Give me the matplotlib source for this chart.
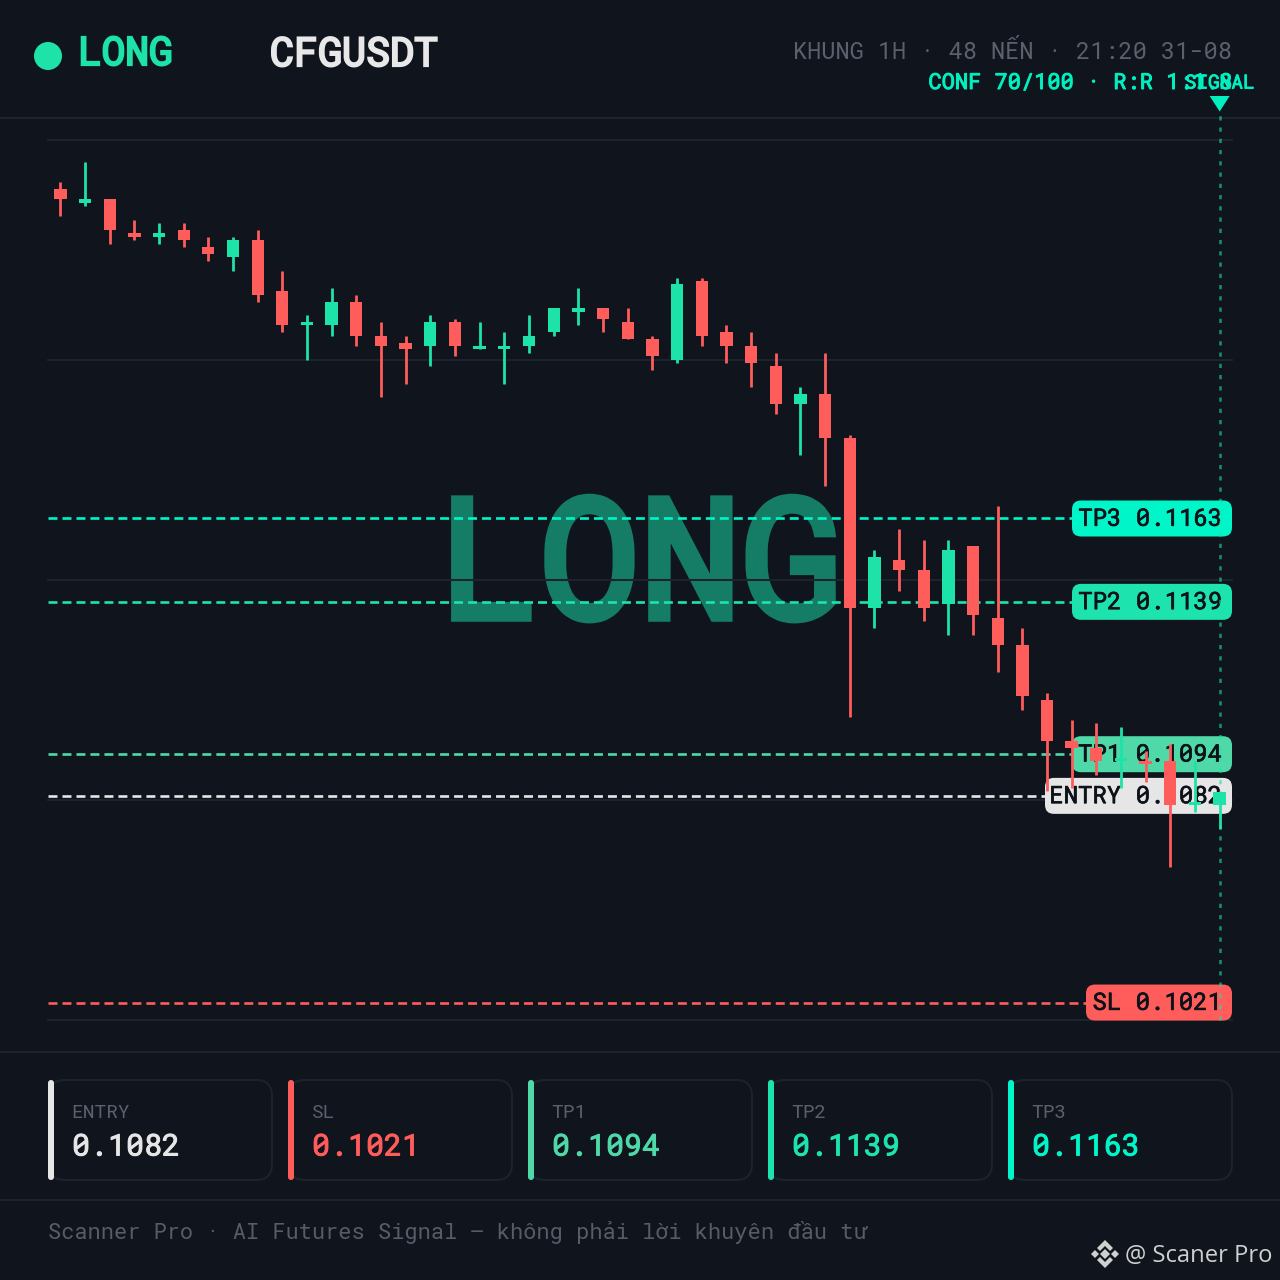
import matplotlib
matplotlib.use("Agg")
from matplotlib import pyplot as plt
from matplotlib import font_manager
from matplotlib import patheffects
from matplotlib.patches import Circle, FancyBboxPatch, Polygon
from matplotlib.transforms import Affine2D
import numpy as np

# candles, oldest first
opens = [0.12595, 0.12555, 0.12565, 0.12465, 0.12455, 0.12475, 0.12425, 0.12395,
         0.12445, 0.12295, 0.12195, 0.12195, 0.12265, 0.12165, 0.12145, 0.12135,
         0.12205, 0.12125, 0.12125, 0.12135, 0.12175, 0.12235, 0.12245, 0.12205,
         0.12155, 0.12095, 0.12325, 0.12175, 0.12135, 0.12075, 0.11965, 0.11995,
         0.11865, 0.11369, 0.11508, 0.11478, 0.11379, 0.11549, 0.11339, 0.1126,
         0.11099, 0.10979, 0.10959, 0.1092, 0.1092, 0.1092, 0.1079, 0.1079]
highs = [0.12615, 0.12675, 0.12565, 0.12505, 0.12495, 0.12495, 0.12455, 0.12455,
         0.12475, 0.12355, 0.12225, 0.12305, 0.12285, 0.12205, 0.12165, 0.12225,
         0.12215, 0.12205, 0.12175, 0.12225, 0.12245, 0.12305, 0.12245, 0.12245,
         0.12165, 0.12335, 0.12335, 0.12195, 0.12175, 0.12115, 0.12015, 0.12115,
         0.11875, 0.11538, 0.11598, 0.11568, 0.11568, 0.11549, 0.11668, 0.1131,
         0.11118, 0.11039, 0.1103, 0.1102, 0.1095, 0.10969, 0.1092, 0.1083]
lows = [0.12515, 0.12545, 0.12435, 0.12445, 0.12435, 0.12425, 0.12385, 0.12355,
        0.12265, 0.12175, 0.12095, 0.12165, 0.12135, 0.11985, 0.12025, 0.12075,
        0.12105, 0.12125, 0.12025, 0.12115, 0.12165, 0.12195, 0.12175, 0.12155,
        0.12065, 0.12085, 0.12135, 0.12085, 0.12015, 0.11935, 0.11815, 0.11725,
        0.1105, 0.1131, 0.11419, 0.11329, 0.11289, 0.11289, 0.1118, 0.1107,
        0.10832, 0.1084, 0.10879, 0.1084, 0.1086, 0.1061, 0.1077, 0.1072]
closes = [0.12565, 0.12565, 0.12475, 0.12455, 0.12465, 0.12445, 0.12405, 0.12445,
          0.12285, 0.12195, 0.12205, 0.12265, 0.12165, 0.12135, 0.12125, 0.12205,
          0.12135, 0.12135, 0.12135, 0.12165, 0.12245, 0.12245, 0.12215, 0.12155,
          0.12105, 0.12315, 0.12165, 0.12135, 0.12085, 0.11965, 0.11995, 0.11865,
          0.11369, 0.11518, 0.11478, 0.11369, 0.11538, 0.11348, 0.1126, 0.1111,
          0.1098, 0.10959, 0.1092, 0.10929, 0.1091, 0.1079, 0.108, 0.1083]

level_names = ["TP3", "TP2", "TP1", "ENTRY", "SL"]
level_prices = [0.1163, 0.11386, 0.1094, 0.10818, 0.10213]
level_labels = ["0.1163", "0.1139", "0.1094", "0.1082", "0.1021"]
level_colors = ["#00f5c8", "#1de3ae", "#4fd9a8", "#e6e6e6", "#ff5c5c"]
pill_lefts = [1072, 1072, 1072, 1045, 1086]

card_names = ["ENTRY", "SL", "TP1", "TP2", "TP3"]
card_values = ["0.1082", "0.1021", "0.1094", "0.1139", "0.1163"]
card_colors = ["#e6e6e6", "#ff5c5c", "#4fd9a8", "#1de3ae", "#00f5c8"]

BG = "#0f141d"
LINE = "#1d232d"
GREY = "#5a616d"
GREEN = "#1de3a8"
RED = "#ff5c5c"
TEAL = "#00f0c0"
INK = "#0d1218"

names = {f.name for f in font_manager.fontManager.ttflist}
MONO = "Roboto Mono" if "Roboto Mono" in names else "DejaVu Sans Mono"


def px(size):
    # font sizes below are given in pixels
    return size * 72 / 100


def heavy(width, color):
    # the mono font only comes in one weight, so thicken it with an outline
    return [patheffects.withStroke(linewidth=px(width), foreground=color, joinstyle="miter")]


fig = plt.figure(figsize=(12.8, 12.8), dpi=100, facecolor=BG)

# page axes, coordinates are image pixels
page = fig.add_axes([0, 0, 1, 1], zorder=1)
page.set_xlim(0, 1280)
page.set_ylim(1280, 0)
page.axis("off")

# header
page.add_patch(Circle((48, 56), 14, color=GREEN, lw=0))
page.text(78, 54.5, "LONG", color=GREEN, fontsize=px(39.4), family=MONO, va="center",
          path_effects=heavy(2.2, GREEN))
page.text(270, 54.5, "CFGUSDT", color="#e8e8e8", fontsize=px(40), family=MONO, va="center",
          path_effects=heavy(2.2, "#e8e8e8"))
page.text(1232, 52, "KHUNG 1H · 48 NẾN · 21:20 31-08", color=GREY, fontsize=px(23.65),
          family=MONO, ha="right", va="center")
page.text(1232, 83.5, "CONF 70/100 · R:R 1:1.8", color=TEAL, fontsize=px(22), family=MONO,
          ha="right", va="center", path_effects=heavy(1.0, TEAL))
page.plot([0, 1280], [118, 118], color=LINE, lw=1.5)
page.plot([0, 1280], [1052, 1052], color=LINE, lw=1.5)
page.plot([0, 1280], [1200, 1200], color=LINE, lw=1.5)

# cards under the chart
for i in range(5):
    left = 48 + i * 240
    page.add_patch(FancyBboxPatch((left + 1, 1080), 223, 100, boxstyle="round,pad=0,rounding_size=16",
                                  fc="none", ec=LINE, lw=1.5))
    page.add_patch(FancyBboxPatch((left, 1080), 6, 100, boxstyle="round,pad=0,rounding_size=3",
                                  fc=card_colors[i], ec="none"))
    page.text(left + 23.5, 1113, card_names[i], color=GREY, fontsize=px(19.5), family=MONO, va="center")
    page.text(left + 24, 1147.5, card_values[i], color=card_colors[i], fontsize=px(30), family=MONO,
              va="center", path_effects=heavy(1.0, card_colors[i]))

# footer
page.text(48, 1233, "Scanner Pro · AI Futures Signal — không phải lời khuyên đầu tư", color="#565c68",
          fontsize=px(22), family=MONO, va="center")
page.text(1125, 1255.5, "@ Scaner Pro", color="#cfd0d0", fontsize=px(23.7), family="Open Sans", va="center")
for pts in [[(1105, 1249), (1110, 1254), (1105, 1259), (1100, 1254)],
            [(1091, 1254), (1095, 1250), (1099, 1254), (1095, 1258)],
            [(1111, 1254), (1115, 1250), (1119, 1254), (1115, 1258)],
            [(1105, 1240), (1113, 1248), (1110, 1251), (1105, 1246), (1100, 1251), (1097, 1248)],
            [(1105, 1268), (1113, 1260), (1110, 1257), (1105, 1262), (1100, 1257), (1097, 1260)]]:
    page.add_patch(Polygon(pts, closed=True, fc="#cfd0d0", ec="none"))

# chart axes
ax = fig.add_axes([48 / 1280, 1 - 1020 / 1280, 1184 / 1280, 880 / 1280], zorder=2)
ax.patch.set_alpha(0)
ax.set_xlim(-0.5, 47.5)
ax.set_ylim(0.101619, 0.12738)
for spine in ax.spines.values():
    spine.set_visible(False)
ax.set_yticks(np.linspace(0.101619, 0.12738, 5))
ax.set_xticks([])
ax.tick_params(left=False, labelleft=False)
ax.set_axisbelow(True)
ax.grid(axis="y", color=LINE, lw=1.5)
for gridline in ax.get_ygridlines():
    gridline.set_clip_on(False)

top_down = Affine2D().scale(1, -1).translate(0, 1280)

ax.text(0.5, 0.4565, "LONG", transform=ax.transAxes, color="#157d65", fontsize=px(168),
        family=MONO, ha="center", va="baseline", zorder=0.4, path_effects=heavy(7, "#157d65"))

# level lines with their price tags
for name, price, label, color, left in zip(level_names, level_prices, level_labels, level_colors, pill_lefts):
    y_px = 1280 - ax.transData.transform((0, price))[1]
    x_end = ax.transData.inverted().transform((left, 0))[0]
    ax.plot([-0.5, x_end], [price, price], color=color, lw=1.9, ls=(0, (3.4, 1.9)), zorder=3)
    ax.add_patch(FancyBboxPatch((left, y_px - 18), 1232 - left, 36, boxstyle="round,pad=0,rounding_size=9",
                                fc=color, ec="none", transform=top_down, clip_on=False, zorder=4))
    ax.text(1222, y_px + 0.8, name + " " + label, transform=top_down, color=INK, fontsize=px(24),
            family=MONO, ha="right", va="center", zorder=5, path_effects=heavy(0.7, INK))

# signal marker on the last candle
last = len(opens) - 1
last_px = ax.transData.transform((last, 0))[0]
ax.plot([last, last], [0, 1.0318], transform=ax.get_xaxis_transform(), color=GREEN, alpha=0.6, lw=1.8,
        ls=(0, (1.7, 2.8)), clip_on=False, zorder=6)
ax.add_patch(Polygon([(last_px - 10, 96), (last_px + 10, 96), (last_px, 111.5)], closed=True, fc=TEAL, ec="none",
                     transform=top_down, clip_on=False, zorder=7))
ax.text(last, 1.0642, "SIGNAL", transform=ax.get_xaxis_transform(), color=TEAL, fontsize=px(19.4),
        family=MONO, ha="center", va="center", clip_on=False, zorder=7, path_effects=heavy(0.9, TEAL))

x = np.arange(len(opens))
colors = [GREEN if c >= o else RED for o, c in zip(opens, closes)]
tops = np.maximum(opens, closes)
bottoms = np.minimum(opens, closes)
ax.vlines(x, lows, highs, colors=colors, lw=2.0, zorder=8)
ax.bar(x, tops - bottoms, bottom=bottoms, width=0.5, color=colors, zorder=9)

fig.savefig("out.png", dpi=100, facecolor=BG)
